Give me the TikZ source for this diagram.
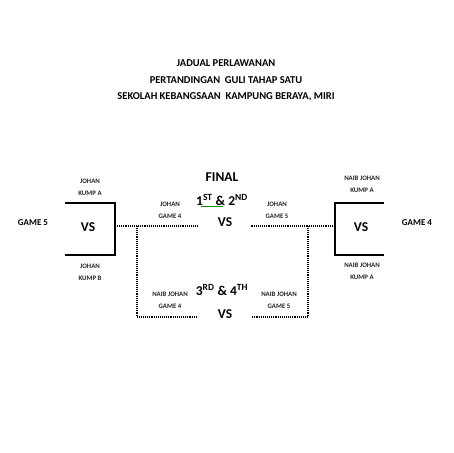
\documentclass[tikz,border=0pt]{standalone}
\usepackage{fontspec}
\setmainfont{Carlito}
\usetikzlibrary{positioning}

\tikzset{
    title/.style={font=\fontsize{10.5}{12}\selectfont\bfseries, inner sep=0},
    small/.style={font=\fontsize{6.8}{12}\selectfont\bfseries, align=center, inner sep=0, text=black!85},
    game/.style={font=\fontsize{9}{11}\selectfont\bfseries, inner sep=0},
    big/.style={font=\fontsize{13.5}{15}\selectfont\bfseries, inner sep=0},
    bracket/.style={line width=1.7pt},
    dots/.style={line width=1.3pt, dash pattern=on 1pt off 0.9pt},
}

\begin{document}
\begin{tikzpicture}[x=1pt, y=-1pt]
\useasboundingbox[fill=white] (0,0) rectangle (453,453);

% title
\node[title] at (226,63) (t1) {JADUAL PERLAWANAN};
\node[title] at (226,80) (t2) {PERTANDINGAN\ \ GULI TAHAP SATU};
\node[title] at (226,97) (t3) {SEKOLAH KEBANGSAAN\ \ KAMPUNG BERAYA, MIRI};

% left bracket
\coordinate (l1) at (65,203);
\coordinate (l2) at (115,203);
\coordinate (l3) at (115,255);
\coordinate (l4) at (65,255);
\coordinate (lm) at (115,226);
\coordinate (lj) at (137,226);
\coordinate (lf) at (198,226);
\coordinate (lb) at (137,317);
\coordinate (lt) at (198,317);

\node[small] at (90,187) (ka) {JOHAN\\KUMP A};
\node[small] at (90,272) (kb) {JOHAN\\KUMP B};
\node[game] at (33,223) (g5) {GAME 5};
\node[big] at (88,227) (vsl) {VS};
\node[small] at (170,210) (j4) {JOHAN\\GAME 4};
\node[small] at (170,300) (n4) {NAIB JOHAN\\GAME 4};

% right bracket
\coordinate (r1) at (384,203);
\coordinate (r2) at (335,203);
\coordinate (r3) at (335,255);
\coordinate (r4) at (384,255);
\coordinate (rm) at (335,226);
\coordinate (rj) at (308,226);
\coordinate (rf) at (251,226);
\coordinate (rb) at (308,317);
\coordinate (rt) at (251,317);

\node[small] at (362,184) (na) {NAIB JOHAN\\KUMP A};
\node[small] at (362,271) (nb) {NAIB JOHAN\\KUMP A};
\node[game] at (417,223) (g4) {GAME 4};
\node[big] at (361,227) (vsr) {VS};
\node[small] at (277,210) (j5) {JOHAN\\GAME 5};
\node[small] at (279,300) (n5) {NAIB JOHAN\\GAME 5};

% centre
\node[big] at (222,177) (fin) {FINAL};
\node[big] at (222,200) (p12) {1\textsuperscript{ST} \& 2\textsuperscript{ND}};
\node[big] at (225,222) (vs12) {VS};
\node[big] at (222,290) (p34) {3\textsuperscript{RD} \& 4\textsuperscript{TH}};
\node[big] at (225,314) (vs34) {VS};

\draw[green!55!black, line width=0.6pt] (201,206) -- (223,206);

\draw[bracket] (l1) -- (l2) -- (l3) -- (l4);
\draw[bracket] (r1) -- (r2) -- (r3) -- (r4);

\draw[dots] (lm) -- (lf);
\draw[dots] (lj) -- (lb) -- (lt);
\draw[dots] (rm) -- (rf);
\draw[dots] (rj) -- (rb) -- (rt);
\end{tikzpicture}
\end{document}
